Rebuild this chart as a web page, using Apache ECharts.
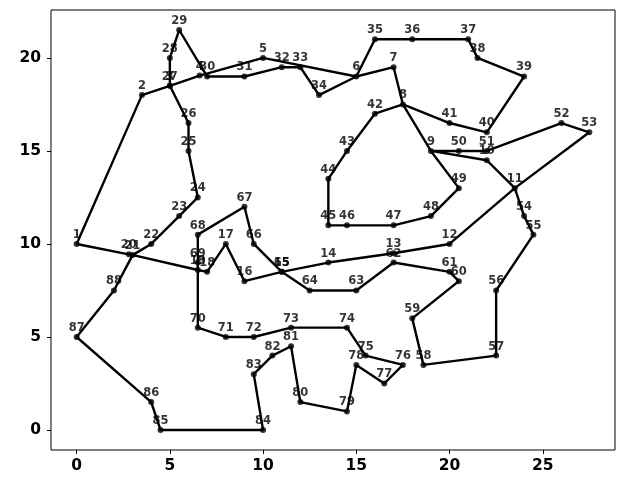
<!DOCTYPE html>
<html>
<head>
<meta charset="utf-8">
<script src="https://cdn.jsdelivr.net/npm/echarts@6/dist/echarts.min.js"></script>
<style>html,body{margin:0;padding:0;background:#fff}#c{width:641px;height:480px}</style>
</head>
<body>
<div id="c"></div>
<script>
// node coordinates, index i -> node i+1
const nodeX = [0,3.5,5,6.6,10,15,17,17.5,19,22,23.5,20,17,13.5,11,9,8,7,6.5,2.8,3,4,5.5,6.5,6,6,5,5,5.5,7,
  9,11,12,13,16,18,21,21.5,24,22,20,16,14.5,13.5,13.5,14.5,17,19,20.5,20.5,22,26,27.5,24,24.5,22.5,22.5,18.6,18,20.5,
  20,17,15,12.5,11,9.5,9,6.5,6.5,6.5,8,9.5,11.5,14.5,15.5,17.5,16.5,15,14.5,12,11.5,10.5,9.5,10,4.5,4,0,2];
const nodeY = [10,18,18.5,19.05,20,19,19.5,17.5,15,14.5,13,10,9.5,9,8.5,8,10,8.5,8.6,9.45,9.4,10,11.5,12.5,15,16.5,18.5,20,21.5,19,
  19,19.5,19.5,18,21,21,21,20,19,16,16.5,17,15,13.5,11,11,11,11.5,13,15,15,16.5,16,11.5,10.5,7.5,4,3.5,6,8,
  8.5,9,7.5,7.5,8.5,10,12,10.5,9,5.5,5,5,5.5,5.5,4,3.5,2.5,3.5,1,1.5,4.5,4,3,0,0,1.5,5,7.5];
// visiting order (node labels)
const route = [1,2,3,4,5,6,7,8,9,10,11,12,13,14,15,16,17,18,19,20,21,22,23,24,25,26,27,28,29,30,31,32,33,34,6,
  35,36,37,38,39,40,41,8,42,43,44,45,46,47,48,49,9,50,51,52,53,11,54,55,56,57,58,59,60,61,62,63,64,65,66,67,68,69,
  70,71,72,73,74,75,76,77,78,79,80,81,82,83,84,85,86,87,88,21,1];
const xTicks = [0,5,10,15,20,25];
const yTicks = [0,5,10,15,20];

const nodes = nodeX.map((x,i)=>({value:[x,nodeY[i]], name:String(i+1)}));
const path = route.map(n=>[nodeX[n-1], nodeY[n-1]]);

const chart = echarts.init(document.getElementById('c'), null, {renderer:'canvas'});
const fontFamily = 'DejaVu Sans';
chart.setOption({
  animation:false,
  backgroundColor:'#fff',
  grid:{left:51, top:10, right:26, bottom:30, show:true, borderColor:'#000', borderWidth:1, backgroundColor:'transparent'},
  xAxis:{type:'value', min:-1.375, max:28.875,
    axisLine:{show:false, onZero:false}, splitLine:{show:false},
    axisTick:{show:true, inside:false, length:4, lineStyle:{color:'#000', width:1}, customValues:xTicks},
    axisLabel:{customValues:xTicks, color:'#000', fontFamily, fontWeight:'bold', fontSize:15.5, margin:8}},
  yAxis:{type:'value', min:-1.075, max:22.575,
    axisLine:{show:false, onZero:false}, splitLine:{show:false},
    axisTick:{show:true, inside:false, length:4, lineStyle:{color:'#000', width:1}, customValues:yTicks},
    axisLabel:{customValues:yTicks, color:'#000', fontFamily, fontWeight:'bold', fontSize:15.5, margin:10}},
  series:[
    {type:'line', data:path, showSymbol:false, symbol:'none', lineStyle:{color:'#000', width:2.4}, z:2, silent:true},
    {type:'scatter', data:nodes, symbol:'circle', symbolSize:6, itemStyle:{color:'#000'}, z:3,
      label:{show:true, position:'top', distance:0, formatter:p=>p.name, color:'#000', fontFamily, fontWeight:'bold', fontSize:11.5}}
  ]
});
</script>
</body>
</html>
